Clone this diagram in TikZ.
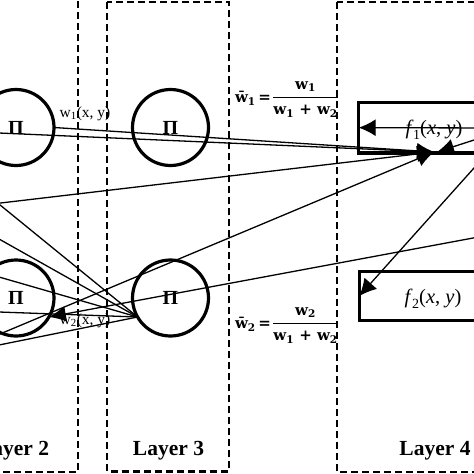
\documentclass[tikz,border=0pt]{standalone}
\usepackage{fontspec}
\setmainfont{Liberation Serif}
\newfontfamily\eqfont{DejaVu Serif}
\usetikzlibrary{arrows.meta}
\newcommand{\wfrac}[2]{{\setlength{\arrayrulewidth}{1.4pt}\begin{tabular}{@{}c@{}}#1\\[3pt]\hline\rule{0pt}{17pt}#2\end{tabular}}}
\newcommand{\fxy}[1]{\textit{f}\kern-0.5pt\raisebox{-0.22em}{\fontsize{14}{14}\selectfont #1}(\textit{x}, \textit{y})}
\begin{document}
\begin{tikzpicture}[x=1pt,y=-1pt,
  layerbox/.style={dash pattern=on 7pt off 4pt, line width=2.2pt},
  pinode/.style={circle, draw, line width=3.2pt, minimum size=76pt, inner sep=0pt, outer sep=0pt, font=\fontsize{20}{20}\selectfont\bfseries},
  fbox/.style={draw, line width=3.3pt, inner sep=0pt, outer sep=0pt, anchor=north west, minimum width=180pt},
  ftext/.style={inner sep=0pt, font=\fontsize{20.5}{20.5}\selectfont},
  link/.style={line width=1.3pt},
  bigtip/.style={-{Latex[length=17pt,width=17pt]}},
  midtip/.style={-{Latex[length=17pt,width=16pt]}},
  layerlabel/.style={font=\fontsize{21.5}{21.5}\selectfont\bfseries, anchor=base, inner sep=0pt},
  wlabel/.style={font=\fontsize{15.5}{15.5}\selectfont, inner sep=0pt},
  eqn/.style={font=\eqfont\bfseries\fontsize{15}{15}\selectfont, inner sep=0pt, anchor=east},
]
\useasboundingbox (0,0) rectangle (474,474);
\clip (0,0) rectangle (474,474);

% layer frames
\draw[layerbox] (78,-10) -- (78,472) -- (-10,472);
\draw[layerbox] (107.3,2) rectangle (228.7,471.5);
\draw[layerbox] (337,2) rectangle (530,472);

% layer labels
\node[layerlabel] (t2) at (13.5,455) {Layer 2};
\node[layerlabel] (t3) at (168.5,455) {Layer 3};
\node[layerlabel] (t4) at (435,455) {Layer 4};

% product nodes
\node[pinode] (c2a) at (16,127.5) {Π};
\node[pinode] (c2b) at (16,298) {Π};
\node[pinode] (c3a) at (170.5,127.5) {Π};
\node[pinode] (c3b) at (170.5,298) {Π};

% consequent boxes
\node[fbox, minimum height=50.7pt] (f1) at (358.7,102.3) {};
\node[fbox, minimum height=49pt] (f2) at (359.3,271.5) {};
\node[ftext] (f1t) at (434,130) {\fxy{1}};
\node[ftext] (f2t) at (433,299) {\fxy{2}};

% normalisation formulas
\node[eqn] (eq1) at (338,99) {\=w\textsubscript{1}\,=\,\wfrac{w\textsubscript{1}}{w\textsubscript{1} + w\textsubscript{2}}};
\node[eqn] (eq2) at (338,325) {\=w\textsubscript{2}\,=\,\wfrac{w\textsubscript{2}}{w\textsubscript{1} + w\textsubscript{2}}};

% weight labels
\node[wlabel] (w1l) at (85,113.5) {w\textsubscript{1}(x, y)};
\node[wlabel] (w2l) at (85,320.5) {w\textsubscript{2}(x, y)};

% coordinates
\coordinate (cv) at (434,152);
\coordinate (cvr) at (437,152);
\coordinate (a1) at (-1,133);
\coordinate (a2) at (-2,203.3);
\coordinate (a3) at (-1,239);
\coordinate (a4) at (-1,277);
\coordinate (a5) at (-1,312);
\coordinate (a6) at (-1,345);
\coordinate (a7) at (-1,334.4);
\coordinate (rA) at (500,131.6);
\coordinate (rB) at (500,128);
\coordinate (rC) at (500,139);
\coordinate (rD) at (500,233);

% connectors into layer 4 junction
\draw[link,midtip] (c2a.east) -- (cv);
\draw[link,midtip] (a1) -- (cv);
\draw[link,midtip] (a2) -- (cv);
\draw[link,midtip] (a7) -- (cv);
\draw[link,midtip] (rA) -- (cvr);

% fan into lower layer 3 node
\draw[link] (a2) -- (c3b.210);
\draw[link] (a3) -- (c3b.210);
\draw[link] (a4) -- (c3b.210);
\draw[link] (a5) -- (c3b.210);
\draw[link] (a6) -- (c3b.210);

% arrows from the right
\draw[link,bigtip] (rB) -- (f1.west);
\draw[link,bigtip] (rC) -- (f2.west);
\draw[link,midtip] (rD) -- (c2b.-30);
\end{tikzpicture}
\end{document}
